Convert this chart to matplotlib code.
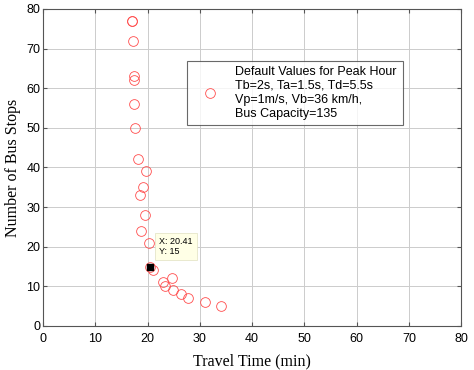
import numpy as np
import matplotlib.pyplot as plt

# travel time (min) vs number of bus stops
travel_time = [17.0, 17.0, 17.2, 17.4, 17.3, 17.3, 17.6, 18.1, 19.7, 19.2, 18.6,
               19.4, 18.8, 20.2, 20.41, 21.1, 24.6, 23.0, 23.4, 24.8, 26.4, 27.8,
               30.9, 34.1]
bus_stops = [77, 77, 72, 63, 62, 56, 50, 42, 39, 35, 33,
             28, 24, 21, 15, 14, 12, 11, 10, 9, 8, 7,
             6, 5]
tip_x, tip_y = 20.41, 15
legend_text = ("Default Values for Peak Hour\nTb=2s, Ta=1.5s, Td=5.5s\n"
               "Vp=1m/s, Vb=36 km/h,\nBus Capacity=135")

fig = plt.figure(figsize=(4.74, 3.7), dpi=100)
ax = fig.add_axes([0.091, 0.119, 0.882, 0.857])

ax.plot(travel_time, bus_stops, 'o', mfc='none', mec='#ff4d4d', ms=7, mew=0.6,
        label=legend_text)
ax.plot([tip_x], [tip_y], 's', color='black', ms=4.5)

ax.set_xlim(0, 80)
ax.set_ylim(0, 80)
ax.set_xticks(np.arange(0, 81, 10))
ax.set_yticks(np.arange(0, 81, 10))
ax.grid(True, color='#cccccc', linewidth=0.7)
ax.tick_params(direction='in', top=True, right=True, labelsize=9, length=3,
               color='#555555')
ax.tick_params(axis='x', pad=5)
ax.tick_params(axis='y', pad=2)
for lbl in ax.get_xticklabels() + ax.get_yticklabels():
    lbl.set_family('Liberation Sans')
for s in ax.spines.values():
    s.set_color('#555555')
    s.set_linewidth(0.8)

ax.set_xlabel('Travel Time (min)', family='Liberation Serif', fontsize=11.5, labelpad=6)
ax.set_ylabel('Number of Bus Stops', family='Liberation Serif', fontsize=11.5, labelpad=4)

leg = ax.legend(loc='upper left', bbox_to_anchor=(0.345, 0.837), fancybox=False,
                prop={'family': 'Liberation Sans', 'size': 9}, handletextpad=0.6,
                borderpad=0.45, handlelength=2.8, labelspacing=0.25, borderaxespad=0)
leg.get_frame().set_edgecolor('#444444')
leg.get_frame().set_linewidth(0.8)

ax.annotate(f'X: {tip_x}\nY: {tip_y}', xy=(tip_x, tip_y), xytext=(22.2, 20.0),
            fontsize=6.5, family='Liberation Sans', va='center', ha='left',
            bbox=dict(boxstyle='square,pad=0.45', fc='#ffffe6', ec='#e0e0c0', lw=0.5))

fig.savefig('out.png', dpi=100)
